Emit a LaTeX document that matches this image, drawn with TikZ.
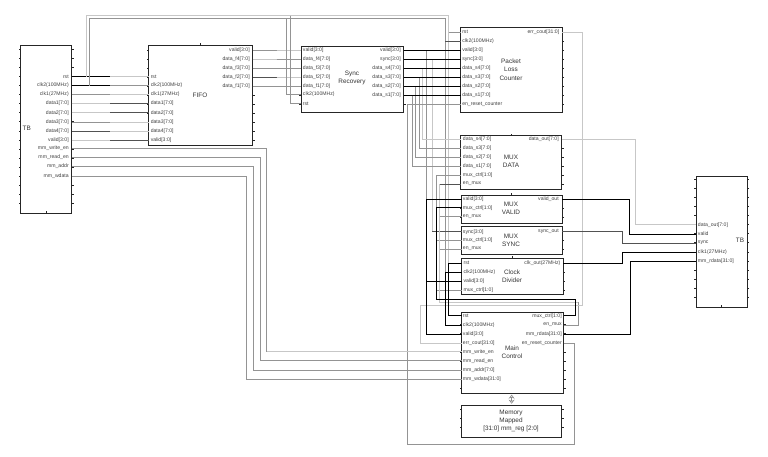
\documentclass[tikz,border=0pt]{standalone}
\usepackage{fontspec}
\setmainfont{Liberation Sans}
\usetikzlibrary{arrows.meta,calc}

\tikzset{
    blockbox/.style={draw=black!85, line width=0.75pt, inner sep=0pt, outer sep=0pt},
    blocktitle/.style={align=center, text=black!80, font=\fontsize{4.8}{6.3}\selectfont},
    portleft/.style={anchor=west, inner sep=0pt, text=black!75, font=\fontsize{3.85}{4.5}\selectfont},
    portright/.style={anchor=east, inner sep=0pt, text=black!75, font=\fontsize{3.85}{4.5}\selectfont},
    pintick/.style={line width=0.6pt, black!85},
    wirelight/.style={line width=0.7pt, black!22},
    wiregrey/.style={line width=0.7pt, black!42},
    wiredark/.style={line width=0.7pt, black!68},
    wireblack/.style={line width=0.75pt, black}
}

\begin{document}
\begin{tikzpicture}[x=0.75pt, y=-0.75pt]
    \useasboundingbox (0,0) rectangle (768,457);

    % Blocks, with their pin ticks
    \foreach \name/\xa/\ya/\xb/\yb/\first/\n in {
        tbleft/20.5/45/71.5/213/49.3/18,
        fifo/148.5/45/252.5/145.5/50/11,
        sync/301/46/403.7/112/50/7,
        packet/460.7/27.7/562.3/112/32/9,
        muxdata/460.7/135.7/561.7/189/139/6,
        muxvalid/461.5/195/562/223.3/199/3,
        muxsync/461.5/226.7/562/254.3/231.7/3,
        clock/461.5/258.3/563/294.3/263.3/4,
        main/461.5/312.3/563.5/393.3/315.7/9,
        memory/461.5/405.7/561.7/437.3/409.5/3,
        tbright/696.3/176/747.3/307.3/179.4/14} {
        \pgfmathsetmacro\cx{(\xa+\xb)/2}
        \pgfmathsetmacro\cy{(\ya+\yb)/2}
        \pgfmathsetmacro\boxw{\xb-\xa}
        \pgfmathsetmacro\boxh{\yb-\ya}
        \node[blockbox, minimum width=\boxw*0.75pt, minimum height=\boxh*0.75pt] (\name) at (\cx,\cy) {};
        \foreach \k in {1,...,\n} {
            \pgfmathsetmacro\ty{\first+(\k-1)*9.07}
            \draw[pintick] (\xa,\ty) -- ++(-2,0);
            \draw[pintick] (\xb,\ty) -- ++(2,0);
        }
    }
    \foreach \p/\dy in {fifo.north/-2, muxdata.north/-2, muxvalid.north/-2, clock.north/-2, tbleft.south/-2, tbright.south/-2} {
        \draw[pintick] (\p) -- ++(0,\dy);
    }

    % Block titles
    \foreach \name/\x/\y/\t in {
        tbleft/26.7/128.5/TB,
        fifo/200/95/FIFO,
        sync/352/78/Sync\\Recovery,
        packet/511/69.5/Packet\\Loss\\Counter,
        muxdata/511/161/MUX\\DATA,
        muxvalid/511/208/MUX\\VALID,
        muxsync/511/240.5/MUX\\SYNC,
        clock/512/276.5/Clock\\Divider,
        main/512/352.5/Main\\Control,
        memory/511/421/Memory\\Mapped\\{}[31:0] mm\_reg [2:0],
        tbright/740/240.7/TB} {
        \node[blocktitle] (\name title) at (\x,\y) {\t};
    }

    % TB (left) ports
    \foreach \p/\y/\t in {rst/76.5/rst, clktwo/85.5/clk2(100MHz), clkone/94.5/clk1(27MHz), dataone/103.5/data1[7:0],
        datatwo/112.7/data2[7:0], datathree/122/data3[7:0], datafour/131/data4[7:0], valid/140/valid[3:0],
        mmw/148.5/mm\_write\_en, mmr/157.5/mm\_read\_en, mma/166.5/mm\_addr, mmd/176/mm\_wdata} {
        \coordinate (tbl-\p) at (71.5,\y);
        \node[portright] (tbl-\p-label) at (69,\y) {\t};
    }

    % FIFO ports
    \foreach \p/\y/\t in {rst/76.5/rst, clktwo/85.5/clk2(100MHz), clkone/94.5/clk1(27MHz), dataone/103.5/data1[7:0],
        datatwo/112.7/data2[7:0], datathree/122/data3[7:0], datafour/131/data4[7:0], valid/140/valid[3:0]} {
        \coordinate (fifo-\p) at (148.5,\y);
        \node[portleft] (fifo-\p-label) at (150.5,\y) {\t};
    }
    \foreach \p/\y/\t in {valid/50/valid[3:0], ffour/59/data\_f4[7:0], fthree/68.2/data\_f3[7:0], ftwo/77.3/data\_f2[7:0], fone/86.3/data\_f1[7:0]} {
        \coordinate (fifo-o\p) at (252.5,\y);
        \node[portright] (fifo-o\p-label) at (250,\y) {\t};
    }

    % Sync Recovery ports
    \foreach \p/\y/\t in {valid/50/valid[3:0], ffour/59/data\_f4[7:0], fthree/68.2/data\_f3[7:0], ftwo/77.3/data\_f2[7:0], fone/86.3/data\_f1[7:0], clktwo/94.4/clk2(100MHz), rst/103.7/rst} {
        \coordinate (sync-\p) at (301,\y);
        \node[portleft] (sync-\p-label) at (302.7,\y) {\t};
    }
    \foreach \p/\y/\t in {valid/50/valid[3:0], syncout/59/sync[3:0], sfour/68.2/data\_s4[7:0], sthree/77.3/data\_s3[7:0], stwo/86.3/data\_s2[7:0], sone/95/data\_s1[7:0]} {
        \coordinate (sync-o\p) at (403.7,\y);
        \node[portright] (sync-o\p-label) at (401,\y) {\t};
    }

    % Packet Loss Counter ports
    \foreach \p/\y/\t in {rst/32/rst, clktwo/41/clk2(100MHz), valid/50/valid[3:0], syncin/59/sync[3:0], sfour/68.2/data\_s4[7:0], sthree/77.3/data\_s3[7:0], stwo/86.3/data\_s2[7:0], sone/95/data\_s1[7:0], enrst/104/en\_reset\_counter} {
        \coordinate (pkt-\p) at (460.7,\y);
        \node[portleft] (pkt-\p-label) at (462,\y) {\t};
    }
    \coordinate (pkt-err) at (562.3,32);
    \node[portright] (pkt-err-label) at (559.5,32) {err\_cout[31:0]};

    % MUX ports
    \foreach \p/\y/\t in {sfour/139/data\_s4[7:0], sthree/148.5/data\_s3[7:0], stwo/157.3/data\_s2[7:0], sone/166/data\_s1[7:0], ctrl/175.3/mux\_ctrl[1:0], en/184/en\_mux} {
        \coordinate (muxd-\p) at (460.7,\y);
        \node[portleft] (muxd-\p-label) at (462.7,\y) {\t};
    }
    \coordinate (muxd-out) at (561.7,139);
    \node[portright] (muxd-out-label) at (559,139) {data\_out[7:0]};
    \foreach \p/\y/\t in {valid/199/valid[3:0], ctrl/207.7/mux\_ctrl[1:0], en/216.7/en\_mux} {
        \coordinate (muxv-\p) at (461.5,\y);
        \node[portleft] (muxv-\p-label) at (462.7,\y) {\t};
    }
    \coordinate (muxv-out) at (562,199.3);
    \node[portright] (muxv-out-label) at (559,199.3) {valid\_out};
    \foreach \p/\y/\t in {syncin/231.7/sync[3:0], ctrl/240/mux\_ctrl[1:0], en/249/en\_mux} {
        \coordinate (muxs-\p) at (461.5,\y);
        \node[portleft] (muxs-\p-label) at (462.7,\y) {\t};
    }
    \coordinate (muxs-out) at (562,231.7);
    \node[portright] (muxs-out-label) at (559,231.7) {sync\_out};

    % Clock Divider ports
    \foreach \p/\y/\t in {rst/263.3/rst, clktwo/272.3/clk2(100MHz), valid/281.3/valid[3:0], ctrl/290/mux\_ctrl[1:0]} {
        \coordinate (clk-\p) at (461.5,\y);
        \node[portleft] (clk-\p-label) at (463.3,\y) {\t};
    }
    \coordinate (clk-out) at (563,263.3);
    \node[portright] (clk-out-label) at (560.7,263.3) {clk\_out(27MHz)};

    % Main Control ports
    \foreach \p/\y/\t in {rst/315.7/rst, clktwo/325/clk2(100MHz), valid/334.3/valid[3:0], err/343.3/err\_cout[31:0], mmw/351.7/mm\_write\_en, mmr/360.7/mm\_read\_en, mma/370/mm\_addr[7:0], mmd/379/mm\_wdata[31:0]} {
        \coordinate (main-\p) at (461.5,\y);
        \node[portleft] (main-\p-label) at (462.7,\y) {\t};
    }
    \foreach \p/\y/\t in {ctrl/315.7/mux\_ctrl[1:0], en/325/en\_mux, rdata/334.3/mm\_rdata[31:0], enrst/343.3/en\_reset\_counter} {
        \coordinate (main-\p) at (563.5,\y);
        \node[portright] (main-\p-label) at (562,\y) {\t};
    }

    % TB (right) ports
    \foreach \p/\y/\t in {data/224.7/data\_out[7:0], valid/234/valid, syncin/243/sync, clkone/252.3/clk1(27MHz), rdata/261.3/mm\_rdata[31:0]} {
        \coordinate (tbr-\p) at (696.3,\y);
        \node[portleft] (tbr-\p-label) at (697.7,\y) {\t};
    }

    % TB to FIFO
    \foreach \p/\sa/\sb in {rst/wireblack/wirelight, clktwo/wireblack/wiregrey, clkone/wiregrey/wirelight, dataone/wirelight/wiredark,
        datatwo/wirelight/wiredark, datathree/wiregrey/wirelight, datafour/wiredark/wirelight, valid/wirelight/wiredark} {
        \draw[\sb] ($(tbl-\p)!0.5!(fifo-\p)$) -- (fifo-\p);
        \draw[\sa] (tbl-\p) -- ($(tbl-\p)!0.5!(fifo-\p)$);
    }

    % FIFO to Sync Recovery
    \draw[wiregrey] (fifo-ovalid) -- (276.7,50);
    \draw[wirelight] (276.7,50) -- (sync-valid);
    \draw[wirelight] (fifo-offour) -- (276.7,59);
    \draw[wiregrey] (276.7,59) -- (sync-ffour);
    \draw[wiregrey] (fifo-ofthree) -- (sync-fthree);
    \draw[wiredark] (fifo-oftwo) -- (276.7,77.3);
    \draw[wirelight] (276.7,77.3) -- (sync-ftwo);
    \draw[wiregrey] (fifo-ofone) -- (sync-fone);

    % rst and clk2 nets over the top
    \draw[wirelight] (86,76.5) -- (86,15.7) -- (448.7,15.7) |- (clk-rst);
    \draw[wiregrey] (290,15.7) |- (sync-rst);
    \draw[wiregrey] (448.7,32) -- (pkt-rst);
    \draw[wiregrey] (89,85.5) -- (89,18.6) -- (445,18.6) |- (clk-clktwo);
    \draw[wiregrey] (286.7,18.6) |- (sync-clktwo);
    \draw[wiredark] (445,41) -- (pkt-clktwo);

    % Sync Recovery outputs going down to the MUX blocks
    \draw[wiregrey] (426.7,50) -- (426.7,199);
    \draw[wirelight] (432.3,59) |- (muxs-syncin);
    \draw[wiredark] (432.3,231.7) -- (muxs-syncin);
    \draw[wirelight] (422.7,68.2) |- (muxd-sfour);
    \draw[wiregrey] (419.3,77.3) |- (muxd-sthree);
    \draw[wiregrey] (415.8,86.3) |- (muxd-stwo);
    \draw[wiregrey] (412,95) |- (muxd-sone);

    % mux_ctrl and en_mux
    \draw[wiregrey] (muxd-ctrl) -| (436,207.7);
    \draw[wiregrey] (436,240) -- (muxs-ctrl);
    \draw[wiregrey] (436,290) -- (clk-ctrl);
    \draw[wirelight] (main-en) -| (578.3,302.3) -- (439.7,302.3) |- (muxd-en);
    \draw[wiregrey] (main-en) -| (578.3,302.3);
    \draw[wiredark] (439.7,184) -- (muxd-en);
    \draw[wiregrey] (439.7,216.7) -- (muxv-en);
    \draw[wiregrey] (439.7,249) -- (muxs-en);

    % err_cout and en_reset_counter
    \draw[wirelight] (pkt-err) -| (582.5,305) -- (420,305) |- (main-err);
    \draw[wiregrey] (main-enrst) -| (574,444) -- (407.5,444) |- (pkt-enrst);

    % mm bus from TB to Main Control
    \draw[wiregrey] (tbl-mmw) -| (266.7,351.7);
    \draw[wirelight] (266.7,351.7) -- (main-mmw);
    \draw[wiregrey] (tbl-mmr) -| (260.7,360.7) -- (main-mmr);
    \draw[wiregrey] (tbl-mma) -| (253.3,370) -- (main-mma);
    \draw[wiregrey] (tbl-mmd) -| (246.3,379) -- (main-mmd);

    % Outputs to TB (right)
    \draw[wirelight] (muxd-out) -| (635.3,224.7) -- (tbr-data);
    \draw[wireblack] (muxv-out) -| (629.3,234) -- (tbr-valid);
    \draw[wiredark] (muxs-out) -| (622,243) -- (tbr-syncin);
    \draw[wireblack] (clk-out) -| (622,252.3) -- (tbr-clkone);
    \draw[wireblack] (main-rdata) -| (630,261.3) -- (tbr-rdata);

    % Black nets
    \draw[wireblack] (sync-ovalid) -- (pkt-valid);
    \draw[wireblack] (sync-osyncout) -- (pkt-syncin);
    \draw[wireblack] (sync-osfour) -- (pkt-sfour);
    \draw[wireblack] (sync-osthree) -- (pkt-sthree);
    \draw[wireblack] (sync-ostwo) -- (pkt-stwo);
    \draw[wireblack] (sync-osone) -- (pkt-sone);
    \draw[wireblack] (muxv-valid) -| (426.7,334.3) -- (main-valid);
    \draw[wireblack] (426.7,281.3) -- (clk-valid);
    \draw[wireblack] (muxv-ctrl) -| (436,299) -- (575,299) |- (main-ctrl);
    \draw[wireblack] (clk-rst) -| (448.7,315.7) -- (main-rst);
    \draw[wireblack] (clk-clktwo) -| (445,325) -- (main-clktwo);

    % Main Control to Memory Mapped
    \draw[{Stealth[open,length=3pt,width=4.5pt]}-{Stealth[open,length=3pt,width=4.5pt]}, line width=0.4pt, black!45, shorten <=1pt, shorten >=1.5pt] (memory.north |- main.south) -- (memory.north);
\end{tikzpicture}
\end{document}
